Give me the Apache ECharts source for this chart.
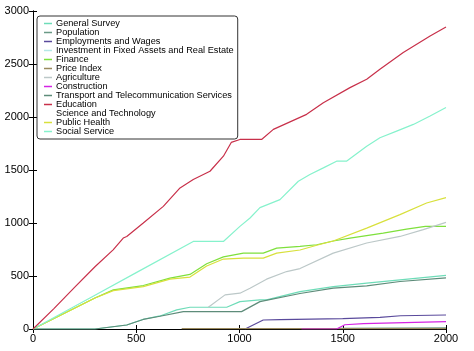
<!DOCTYPE html>
<html lang="en">
<head>
    <meta charset="UTF-8">
    <title>echarts</title>
    <script src="https://cdn.jsdelivr.net/npm/echarts/dist/echarts.min.js"></script>
</head>
<body style="margin:0;background:#fff;">
<div id="main" style="width: 474px;height:351px;"></div>
<script type="text/javascript">
    // axis ticks
    var xTicks = [0, 500, 1000, 1500, 2000];
    var yTicks = [0, 500, 1000, 1500, 2000, 2500, 3000];

    var names = ['General Survey', 'Population', 'Employments and Wages',
        'Investment in Fixed Assets and Real Estate', 'Finance', 'Price Index',
        'Agriculture', 'Construction', 'Transport and Telecommunication Services',
        'Education', 'Science and Technology', 'Public Health', 'Social Service'];

    // [x, y] points
    var generalSurvey = [[0, 0], [300, 0], [308, 10], [454, 38], [534, 92], [615, 123], [696, 180],
        [760, 205], [938, 205], [1002, 258], [1099, 274], [1131, 274], [1293, 353], [1454, 400],
        [1616, 432], [1777, 464], [2000, 505]];
    var population = [[1480, 6], [2000, 10]];
    var employments = [[1027, 0], [1115, 85], [1196, 88], [1500, 98], [1680, 110], [1780, 125], [2000, 132]];
    var investment = [];
    var finance = [[0, 0], [300, 293], [389, 369], [534, 410], [663, 480], [760, 515], [841, 615],
        [922, 680], [1019, 716], [1115, 716], [1180, 763], [1293, 779], [1374, 795], [1454, 830],
        [1535, 858], [1696, 905], [1809, 942], [1900, 968], [2000, 968]];
    var priceIndex = [[720, 3], [2000, 4]];
    var agriculture = [[849, 205], [930, 322], [1002, 338], [1051, 385], [1131, 470], [1228, 542],
        [1293, 570], [1454, 716], [1616, 811], [1777, 873], [1890, 937], [2000, 1006]];
    var construction = [[1300, 0], [1470, 0], [1510, 40], [1600, 50], [1800, 60], [2000, 70]];
    var transport = [[0, 0], [300, 0], [308, 10], [454, 38], [534, 90], [615, 120], [728, 164],
        [1010, 164], [1099, 258], [1293, 335], [1454, 385], [1616, 407], [1777, 448], [2000, 482]];
    var education = [[0, 0], [100, 190], [200, 390], [300, 587], [388, 747], [437, 858], [454, 873],
        [534, 1000], [631, 1157], [712, 1331], [776, 1410], [857, 1488], [922, 1630], [960, 1760],
        [1002, 1788], [1107, 1788], [1164, 1883], [1325, 2025], [1406, 2135], [1535, 2277],
        [1616, 2356], [1680, 2450], [1793, 2608], [1923, 2765], [2000, 2850]];
    var science = [];
    var publicHealth = [[0, 0], [300, 293], [389, 362], [534, 400], [663, 470], [760, 490], [841, 595],
        [922, 660], [1019, 669], [1115, 669], [1180, 716], [1293, 745], [1374, 790], [1454, 830],
        [1616, 952], [1777, 1079], [1906, 1189], [2000, 1240]];
    var socialService = [[0, 0], [300, 318], [500, 532], [776, 826], [922, 826], [1002, 968],
        [1051, 1047], [1099, 1145], [1196, 1220], [1285, 1394], [1341, 1457], [1406, 1520],
        [1470, 1583], [1518, 1583], [1616, 1725], [1680, 1804], [1761, 1867], [1842, 1930],
        [1923, 2009], [2000, 2090]];

    var allData = [generalSurvey, population, employments, investment, finance, priceIndex,
        agriculture, construction, transport, education, science, publicHealth, socialService];
    var colors = ['#6edcb8', '#6a9a86', '#5a4a9c', '#b4e8e6', '#7ee03c', '#9a8a5e',
        '#bcc8c8', '#d424e4', '#5e8c7a', '#c8304a', '#ffffff', '#d8e03c', '#86f2cc'];

    var chart = echarts.init(document.getElementById('main'));

    var axisCommon = {
        min: 0,
        axisLine: {show: true, lineStyle: {color: '#000', width: 1}},
        axisTick: {show: true, inside: true, length: 4, lineStyle: {color: '#000'}},
        splitLine: {show: false}
    };

    function plain(v) {
        return String(v);
    }

    var series = names.map(function (n, i) {
        return {
            name: n,
            type: 'line',
            data: allData[i],
            showSymbol: false,
            symbol: 'none',
            color: colors[i],
            lineStyle: {width: 1.2, color: colors[i]},
            z: 2 + (i === 9 ? 1 : 0)
        };
    });

    chart.setOption({
        animation: false,
        backgroundColor: '#fff',
        textStyle: {fontFamily: 'Liberation Sans'},
        grid: {left: 33, right: 28, top: 11, bottom: 22},
        legend: {
            orient: 'vertical',
            left: 37,
            top: 16,
            padding: [3, 4, 3, 7],
            itemGap: 0,
            itemWidth: 8,
            itemHeight: 1.5,
            icon: 'rect',
            borderColor: '#333',
            borderWidth: 1,
            borderRadius: 3,
            backgroundColor: '#fff',
            textStyle: {fontSize: 9.2, lineHeight: 8.6, color: '#000', padding: [0, 0, 0, -1]},
            data: names
        },
        xAxis: [
            Object.assign({}, axisCommon, {
                type: 'value', max: xTicks[xTicks.length - 1], interval: 500, position: 'bottom',
                axisLabel: {color: '#000', fontSize: 11, margin: 4, formatter: plain}
            }),
            Object.assign({}, axisCommon, {
                type: 'value', max: xTicks[xTicks.length - 1], interval: 500, position: 'top',
                axisLabel: {show: false}
            })
        ],
        yAxis: [
            Object.assign({}, axisCommon, {
                type: 'value', max: yTicks[yTicks.length - 1], interval: 500, position: 'left',
                axisLabel: {color: '#000', fontSize: 11, margin: 4, formatter: plain}
            }),
            Object.assign({}, axisCommon, {
                type: 'value', max: yTicks[yTicks.length - 1], interval: 500, position: 'right',
                axisLabel: {show: false}
            })
        ],
        series: series
    });
</script>
</body>
</html>
